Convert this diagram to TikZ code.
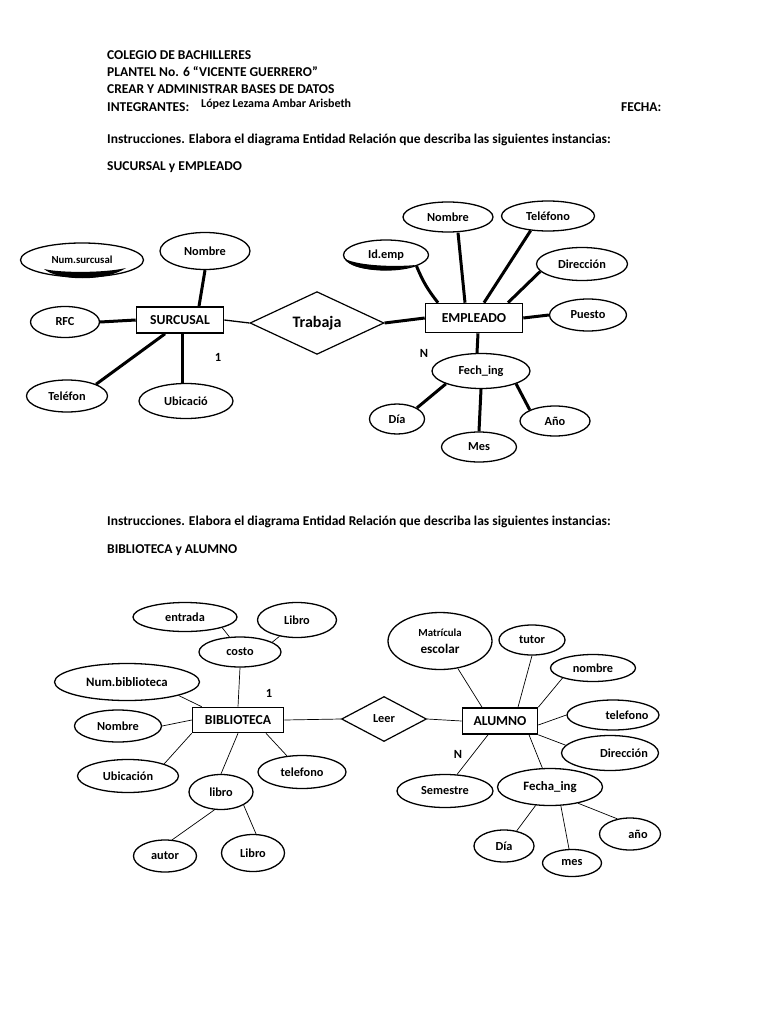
\documentclass[tikz,border=0pt]{standalone}
\usepackage{fontspec}
\setmainfont{Carlito}
\usetikzlibrary{shapes.geometric}
\begin{document}
\begin{tikzpicture}[x=1pt,y=-1pt,
  sz/.style 2 args={minimum width=#1pt,minimum height=#2pt},
  attr/.style={ellipse, draw, line width=1.3pt, inner sep=0pt, font=\bfseries\fontsize{12.3}{14}\selectfont},
  ent/.style={rectangle, draw, line width=1.6pt, inner sep=0pt, font=\bfseries\fontsize{13.7}{16}\selectfont},
  rel/.style={diamond, draw, line width=1.2pt, inner sep=0pt},
  hd/.style={anchor=base west, inner sep=0pt, font=\bfseries\fontsize{13.5}{16}\selectfont},
  thk/.style={line width=3pt},
  thn/.style={line width=0.7pt},
  card/.style={font=\bfseries\fontsize{12.5}{14}\selectfont, inner sep=0pt}
]
\fill[white] (0,0) rectangle (768,1024);
\useasboundingbox (0,0) rectangle (768,1024);

% ---------- header ----------
\node[hd] (h1) at (107,60) {COLEGIO DE BACHILLERES};
\node[hd] (h2) at (107,77) {PLANTEL No. 6 “VICENTE GUERRERO”};
\node[hd] (h3) at (107,94) {CREAR Y ADMINISTRAR BASES DE DATOS};
\node[hd] (h4) at (107,112) {INTEGRANTES:};
\node[hd, font=\bfseries\fontsize{12}{14}\selectfont] (h5) at (201,108) {López Lezama Ambar Arisbeth};
\node[hd] (h6) at (621,112) {FECHA:};
\node[hd] (h7) at (107,144) {Instrucciones. Elabora el diagrama Entidad Relación que describa las siguientes instancias:};
\node[hd] (h8) at (107,171) {SUCURSAL y EMPLEADO};
\node[hd] (h9) at (107,525) {Instrucciones. Elabora el diagrama Entidad Relación que describa las siguientes instancias:};
\node[hd] (h10) at (107,553) {BIBLIOTECA y ALUMNO};

% ---------- diagram 1 ----------
\node[ent, sz={87}{26}] (suc) at (180,320) {SURCUSAL};
\node[rel, sz={134}{59}, font=\bfseries\fontsize{16}{18}\selectfont] (trab) at (317,323) {Trabaja};
\node[ent, sz={97}{29}] (emp) at (474,318) {EMPLEADO};

\node[attr, sz={123}{34}, font=\bfseries\fontsize{10.8}{13}\selectfont] (numsur) at (82,260) {Num.surcusal};
\node[attr, sz={90}{37}] (nom1) at (205,251) {Nombre};
\node[attr, sz={69}{31}] (rfc) at (65,322) {RFC};
\node[attr, sz={81}{32}] (tel1) at (67,396) {Teléfon};
\node[attr, sz={94}{35}] (ubi1) at (186,401) {Ubicació};

\node[attr, sz={85}{30}] (idemp) at (386,255) {Id.emp};
\node[attr, sz={90}{30}] (nom2) at (448,217) {Nombre};
\node[attr, sz={93}{30}] (tel2) at (548,216) {Teléfono};
\node[attr, sz={91}{33}] (dir1) at (582,264) {Dirección};
\node[attr, sz={77}{32}] (pues) at (588,315) {Puesto};
\node[attr, sz={98}{35}] (fech1) at (481,371) {Fech\_ing};
\node[attr, sz={55}{30}] (dia1) at (397,419) {Día};
\node[attr, sz={75}{30}] (mes1) at (479,447) {Mes};
\node[attr, sz={70}{30}] (ano1) at (555,421) {Año};

\node[card] (c1) at (218,357) {1};
\node[card] (cN1) at (424,353) {N};

% heavy marker strokes under two attributes
\fill (44,269) .. controls (58,281) and (105,282) .. (126,268)
      .. controls (105,273) and (60,273) .. cycle;
\fill (345,259) .. controls (352,272) and (395,273) .. (416,265)
      .. controls (395,267) and (360,266) .. cycle;

\draw[thk] (nom1.south) -- ([xshift=19pt]suc.north);
\draw[thk] (rfc.east) -- (suc.west);
\draw[thk] (tel1.north east) -- ([xshift=-15pt]suc.south);
\draw[thk] ([xshift=2pt]suc.south) -- ([xshift=-4pt]ubi1.north);
\draw[line width=1.3pt] (suc.east) -- (trab.west);
\draw[thk] (trab.east) -- (emp.west);

\draw[thk] (idemp.south east) to[bend right=8] ([xshift=-36pt]emp.north);
\draw[thk] ([xshift=10pt]nom2.south) -- ([xshift=-9pt]emp.north);
\draw[thk] (tel2.220) -- ([xshift=10pt]emp.north);
\draw[thk] (dir1.190) -- ([xshift=34pt]emp.north);
\draw[thk] (emp.east) -- (pues.west);
\draw[thk] ([xshift=4pt]emp.south) -- ([xshift=-4pt]fech1.north);
\draw[thk] (fech1.south west) -- (dia1.north east);
\draw[thk] (fech1.south) -- (mes1.north);
\draw[thk] (fech1.south east) -- (ano1.north west);

% ---------- diagram 2 ----------
\node[ent, sz={91}{25}] (bib) at (238,720) {BIBLIOTECA};
\node[rel, sz={85}{45}, font=\bfseries\fontsize{12.3}{14}\selectfont] (leer) at (384,719) {Leer};
\node[ent, sz={75}{26}] (alu) at (500,721) {ALUMNO};

\node[attr, sz={104}{29}] (entr) at (185,617) {entrada};
\node[attr, sz={79}{35}] (lib1) at (297,620) {Libro};
\node[attr, sz={82}{30}] (costo) at (240,652) {costo};
\node[attr, sz={145}{37}, font=\bfseries\fontsize{12.8}{15}\selectfont] (numbib) at (127,682) {Num.biblioteca};
\node[attr, sz={87}{32}] (nom3) at (118,726) {Nombre};
\node[attr, sz={101}{33}] (ubi2) at (128,776) {Ubicación};
\node[attr, sz={88}{33}] (tel3) at (302,772) {telefono};
\node[attr, sz={64}{35}] (libro2) at (221,792) {libro};
\node[attr, sz={63}{32}] (autor) at (165,856) {autor};
\node[attr, sz={63}{37}] (lib2) at (253,853) {Libro};

\node[attr, sz={104}{57}, align=center] (matr) at (440,641) {{\fontsize{10.8}{12}\selectfont Matrícula}\\[3pt]{\fontsize{13.2}{15}\selectfont escolar}};
\node[attr, sz={66}{30}] (tutor) at (532,640) {tutor};
\node[attr, sz={85}{27}] (nomb) at (593,668) {nombre};
\node[attr, sz={92}{30}] (tel4) at (613,715) {\makebox[0pt]{\hspace*{28pt}telefono}};
\node[attr, sz={97}{35}] (dir2) at (610,753) {\makebox[0pt]{\hspace*{28pt}Dirección}};
\node[attr, sz={96}{33}] (sem) at (445,791) {Semestre};
\node[attr, sz={105}{37}, font=\bfseries\fontsize{12.8}{15}\selectfont] (fech2) at (550,787) {Fecha\_ing};
\node[attr, sz={60}{32}] (dia2) at (504,846) {Día};
\node[attr, sz={59}{27}] (mes2) at (572,863) {mes};
\node[attr, sz={61}{32}] (ano2) at (630,834) {\makebox[0pt]{\hspace*{16pt}año}};

\node[card] (c2) at (269,693) {1};
\node[card] (cN2) at (458,754) {N};

\draw[thn] (entr.south east) -- (costo.125);
\draw[thn] (lib1.223) -- (costo.17);
\draw[thn] (costo.south) -- (bib.north);
\draw[thn] (numbib.south east) -- ([xshift=10pt]bib.north west);
\draw[thn] (nom3.east) -- (bib.west);
\draw[thn] (ubi2.north east) -- (bib.south west);
\draw[thn] (tel3.133) -- ([xshift=28pt]bib.south);
\draw[thn] (libro2.north) -- (bib.south);
\draw[thn] (libro2.250) -- (autor.66);
\draw[thn] (libro2.-30) -- ([xshift=3pt]lib2.north);
\draw[thn] (bib.east) -- (leer.west);
\draw[thn] (leer.east) -- (alu.west);

\draw[thn] (matr.-57) -- ([xshift=-18pt]alu.north);
\draw[thn] (tutor.south) -- ([xshift=18pt]alu.north);
\draw[thn] (nomb.south west) -- (alu.north east);
\draw[thn] (tel4.west) -- ([yshift=-4pt]alu.east);
\draw[thn] (dir2.170) -- (alu.south east);
\draw[thn] (fech2.112) -- ([xshift=29pt]alu.south);
\draw[thn] (sem.54) -- ([xshift=-12pt]alu.south);
\draw[thn] (fech2.232) -- (dia2.50);
\draw[thn] (fech2.-60) -- ([xshift=-3pt]mes2.north);
\draw[thn] (fech2.-30) -- (ano2.130);
\end{tikzpicture}
\end{document}
